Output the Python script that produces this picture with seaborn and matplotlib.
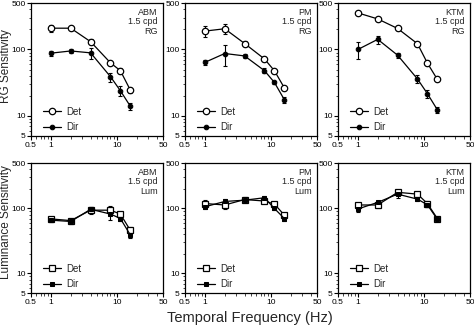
import numpy as np
import pandas as pd
import matplotlib
matplotlib.use("Agg")
import matplotlib.pyplot as plt
import seaborn as sns
from matplotlib.ticker import FixedLocator, FixedFormatter, LogLocator, NullFormatter

sns.set_theme(style="ticks")
plt.rcParams['font.family'] = ['Liberation Sans', 'DejaVu Sans']

freq = [1, 2, 4, 8, 11.3, 16]
observers = ["ABM", "PM", "KTM"]

# RG sensitivity
rg_det = {"ABM": [209, 209, 131, 63, 48, 24.5],
          "PM": [189, 205, 123, 72, 48, 26.5],
          "KTM": [355, 288, 207, 122, 62.5, 35.5]}
rg_dir = {"ABM": [88, 95, 89, 39, 24, 14],
          "PM": [64, 87, 80, 48, 32, 17.6],
          "KTM": [100, 142, 82, 36, 21.7, 12.4]}
rg_det_err = {"ABM": [25, 0, 12, 5, 4, 2],
              "PM": [35, 35, 12, 6, 3, 2],
              "KTM": [10, 10, 8, 8, 4, 2]}
rg_dir_err = {"ABM": [8, 5, 18, 6, 4, 1.5],
              "PM": [5, 30, 5, 4, 2, 2],
              "KTM": [28, 20, 8, 5, 3, 1.2]}

# Luminance sensitivity
lum_det = {"ABM": [69, 65, 94, 94, 82, 46],
           "PM": [119, 113, 137, 130, 117, 79],
           "KTM": [113, 113, 177, 166, 119, 70]}
lum_dir = {"ABM": [66, 63, 97, 82, 70, 39],
           "PM": [106, 128, 134, 146, 100, 70],
           "KTM": [98, 124, 166, 139, 114, 68]}
lum_det_err = {"ABM": [6, 5, 12, 14, 6, 5],
               "PM": [15, 15, 12, 8, 8, 6],
               "KTM": [10, 12, 12, 10, 12, 5]}
lum_dir_err = {"ABM": [5, 5, 8, 16, 5, 4],
               "PM": [8, 12, 10, 8, 6, 5],
               "KTM": [10, 8, 20, 8, 10, 4]}

xticks = [0.5, 1, 10, 50]
xticklabels = ["0.5", "1", "10", "50"]
yticks = [5, 10, 100, 500]
yticklabels = ["5", "10", "100", "500"]

W, H = 474, 330
fig = plt.figure(figsize=(W / 100, H / 100), dpi=100)

lefts = [31, 185, 338]
width = 132
rows = [(3, 136), (163, 293)]


def draw(ax, obs, det, dire, det_err, dir_err, marker, cond):
    df = pd.DataFrame({"freq": freq + freq,
                       "sens": det[obs] + dire[obs],
                       "cond": ["Det"] * 6 + ["Dir"] * 6})
    ax.errorbar(freq, det[obs], yerr=det_err[obs], fmt='none', ecolor='black',
                elinewidth=0.8, capsize=1.5, capthick=0.8, zorder=2)
    ax.errorbar(freq, dire[obs], yerr=dir_err[obs], fmt='none', ecolor='black',
                elinewidth=0.8, capsize=1.5, capthick=0.8, zorder=2)
    sns.lineplot(data=df[df.cond == "Det"], x="freq", y="sens", ax=ax,
                 color='black', lw=0.9, marker=marker,
                 markersize=4.6 if marker == 'o' else 4.3,
                 markerfacecolor='white', markeredgecolor='black', markeredgewidth=0.9,
                 label="Det", zorder=3)
    sns.lineplot(data=df[df.cond == "Dir"], x="freq", y="sens", ax=ax,
                 color='black', lw=0.9, marker=marker, markersize=3.3,
                 markerfacecolor='black', markeredgecolor='black',
                 label="Dir", zorder=4)
    ax.set_xscale('log')
    ax.set_yscale('log')
    ax.set_xlim(0.5, 50)
    ax.set_ylim(5, 500)
    ax.xaxis.set_major_locator(FixedLocator(xticks))
    ax.xaxis.set_major_formatter(FixedFormatter(xticklabels))
    ax.yaxis.set_major_locator(FixedLocator(yticks))
    ax.yaxis.set_major_formatter(FixedFormatter(yticklabels))
    ax.xaxis.set_minor_locator(LogLocator(base=10, subs=np.arange(2, 10)))
    ax.yaxis.set_minor_locator(LogLocator(base=10, subs=np.arange(2, 10)))
    ax.xaxis.set_minor_formatter(NullFormatter())
    ax.yaxis.set_minor_formatter(NullFormatter())
    ax.tick_params(which='major', direction='out', length=3, width=0.8,
                   labelsize=6, pad=1.0, colors='black')
    ax.tick_params(which='minor', direction='out', length=1.8, width=0.6)
    for s in ax.spines.values():
        s.set_linewidth(0.9)
        s.set_color('black')
    ax.set_xlabel("")
    ax.set_ylabel("")
    ax.text(0.96, 0.965, f"{obs}\n1.5 cpd\n{cond}", transform=ax.transAxes,
            ha='right', va='top', fontsize=6.5, linespacing=1.1)
    ax.legend(loc='lower left', frameon=False, fontsize=7, handlelength=1.9,
              borderaxespad=0.0, labelspacing=0.55, handletextpad=0.5,
              bbox_to_anchor=(0.06, 0.0))


for r, (top, bottom) in enumerate(rows):
    for c, obs in enumerate(observers):
        ax = fig.add_axes([lefts[c] / W, 1 - bottom / H, width / W, (bottom - top) / H])
        if r == 0:
            draw(ax, obs, rg_det, rg_dir, rg_det_err, rg_dir_err, 'o', "RG")
        else:
            draw(ax, obs, lum_det, lum_dir, lum_det_err, lum_dir_err, 's', "Lum")

fig.text(6 / W, 1 - 66 / H, "RG Sensitivity", rotation=90, ha='center', va='center', fontsize=8.5)
fig.text(6 / W, 1 - 222 / H, "Luminance Sensitivity", rotation=90, ha='center', va='center', fontsize=8.5)
fig.text(250 / W, 1 - 318 / H, "Temporal Frequency (Hz)", ha='center', va='center', fontsize=10.5)

fig.savefig("out.png", dpi=100)
